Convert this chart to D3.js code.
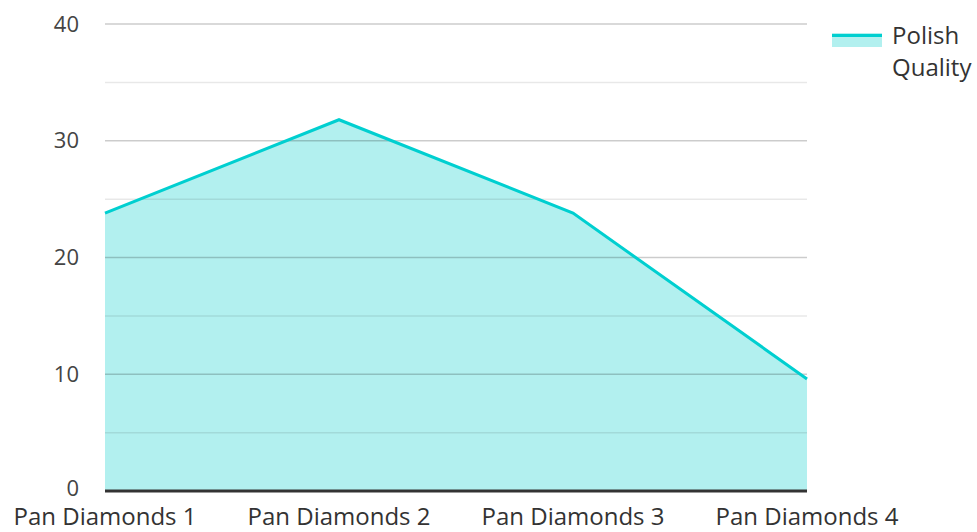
<!DOCTYPE html>
<html>
<head>
<meta charset="utf-8">
<script src="https://cdnjs.cloudflare.com/ajax/libs/d3/7.8.5/d3.min.js"></script>
<style>
    body { margin: 0; background: #fff; }
    svg text { font-family: "Open Sans", sans-serif; }
</style>
</head>
<body>
<div id="chart"></div>
<script>
    var categories = ['Pan Diamonds 1', 'Pan Diamonds 2', 'Pan Diamonds 3', 'Pan Diamonds 4'];
    var polishQuality = [23.8, 31.8, 23.8, 9.6];
    var yTicks = [0, 10, 20, 30, 40];
    var yMinorTicks = [5, 15, 25, 35];
    var seriesName = ['Polish', 'Quality'];

    var W = 977, H = 532;
    var margin = { top: 24, right: 170, bottom: 41, left: 105 };
    var lineColor = '#00cfd0', fillColor = '#b2f0ef';

    var svg = d3.select('#chart').append('svg')
        .attr('width', W).attr('height', H);

    var x = d3.scalePoint().domain(categories)
        .range([margin.left, W - margin.right]);
    var y = d3.scaleLinear().domain([0, 40])
        .range([H - margin.bottom, margin.top]);

    var data = categories.map(function(c, i) { return { cat: c, v: polishQuality[i] }; });

    // area fill
    var area = d3.area()
        .x(function(d) { return x(d.cat); })
        .y0(y(0))
        .y1(function(d) { return y(d.v); });
    svg.append('path').datum(data)
        .attr('d', area)
        .attr('fill', fillColor);

    // grid lines (on top of fill, semi transparent)
    svg.selectAll('.minor').data(yMinorTicks).enter().append('line')
        .attr('x1', margin.left).attr('x2', W - margin.right)
        .attr('y1', function(d) { return y(d); }).attr('y2', function(d) { return y(d); })
        .attr('stroke', '#000').attr('stroke-opacity', 0.09).attr('stroke-width', 1.5);
    svg.selectAll('.major').data(yTicks.slice(1)).enter().append('line')
        .attr('x1', margin.left).attr('x2', W - margin.right)
        .attr('y1', function(d) { return y(d); }).attr('y2', function(d) { return y(d); })
        .attr('stroke', '#000').attr('stroke-opacity', 0.2).attr('stroke-width', 1.5);

    // y labels ("0" sits a touch higher so it clears the category labels)
    svg.selectAll('.ylab').data(yTicks).enter().append('text')
        .attr('x', 79).attr('y', function(d) { return d === 0 ? y(d) - 3 : y(d); })
        .attr('dy', '0.35em')
        .attr('text-anchor', 'end')
        .attr('font-size', 22)
        .attr('fill', '#444')
        .text(function(d) { return d; });

    // line
    var line = d3.line()
        .x(function(d) { return x(d.cat); })
        .y(function(d) { return y(d.v); });
    svg.append('path').datum(data)
        .attr('d', line)
        .attr('fill', 'none')
        .attr('stroke', lineColor)
        .attr('stroke-width', 3);

    // baseline
    svg.append('line')
        .attr('x1', margin.left).attr('x2', W - margin.right)
        .attr('y1', y(0)).attr('y2', y(0))
        .attr('stroke', '#333').attr('stroke-width', 3);

    // x labels
    svg.selectAll('.xlab').data(categories).enter().append('text')
        .attr('x', function(d) { return x(d); })
        .attr('y', 525)
        .attr('text-anchor', 'middle')
        .attr('font-size', 24)
        .attr('fill', '#333')
        .text(function(d) { return d; });

    // legend
    var lg = svg.append('g').attr('transform', 'translate(832,33)');
    lg.append('rect').attr('x', 0).attr('y', 0).attr('width', 50).attr('height', 14).attr('fill', fillColor);
    lg.append('line').attr('x1', 0).attr('x2', 50).attr('y1', 2.5).attr('y2', 2.5)
        .attr('stroke', lineColor).attr('stroke-width', 3);
    lg.selectAll('text').data(seriesName).enter().append('text')
        .attr('x', 60).attr('y', function(d, i) { return 11 + i * 32; })
        .attr('font-size', 24)
        .attr('fill', '#333')
        .text(function(d) { return d; });
</script>
</body>
</html>
